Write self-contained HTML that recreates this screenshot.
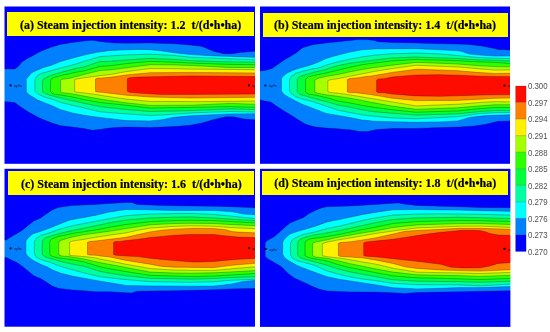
<!DOCTYPE html>
<html><head><meta charset="utf-8">
<style>
html,body{margin:0;padding:0;background:#fff;width:550px;height:332px;overflow:hidden;position:relative}
.t{position:absolute;background:#ffff00;font:bold 12px "Liberation Serif",serif;color:#000;white-space:pre;line-height:24px;-webkit-text-stroke:0.2px #000}
</style></head><body>
<svg width="550" height="332" viewBox="0 0 550 332" xmlns="http://www.w3.org/2000/svg" style="position:absolute;left:0;top:0">
<defs>
<clipPath id="ca"><rect x="4" y="6" width="251" height="158"/></clipPath>
<clipPath id="cb"><rect x="260" y="6" width="250" height="158"/></clipPath>
<clipPath id="cc"><rect x="4" y="168" width="251" height="159"/></clipPath>
<clipPath id="cd"><rect x="260" y="168" width="251" height="159"/></clipPath>
</defs>
<rect x="4" y="6" width="251" height="158" fill="#0000ff"/>
<g clip-path="url(#ca)">
<polygon points="0.0,69.0 15.0,69.0 18.5,66.2 22.0,62.0 28.0,58.0 31.3,56.5 40.4,51.5 49.5,47.8 60.0,44.4 72.0,42.6 84.0,41.1 92.0,40.2 102.0,41.8 114.0,43.0 126.0,43.2 150.0,43.0 174.0,43.7 190.0,45.0 202.0,46.4 214.0,51.4 224.0,53.8 230.0,53.8 232.0,53.8 240.6,52.4 260.0,51.0 260.0,120.3 244.0,118.9 233.4,116.8 230.0,116.8 226.0,116.8 214.0,119.4 202.0,122.9 190.0,125.2 174.0,126.6 150.0,127.6 126.0,127.0 114.0,127.6 102.0,129.1 92.5,130.3 84.0,128.5 72.0,127.1 60.0,125.5 52.0,123.1 40.0,118.3 28.0,111.7 19.7,106.2 14.8,102.6 0.0,101.0" fill="#0080ff" stroke="rgba(0,0,0,0.45)" stroke-width="0.6" stroke-linejoin="round"/>
<polygon points="26.3,91.7 26.3,79.1 28.1,77.0 31.7,72.8 36.5,70.4 42.5,67.9 45.0,67.1 52.2,64.9 60.0,61.7 72.0,58.2 75.0,57.4 84.0,55.1 96.0,52.5 108.0,50.7 120.0,50.0 138.0,49.4 150.0,49.7 162.0,50.9 174.0,52.7 190.0,54.4 192.0,54.6 214.0,55.9 230.0,56.4 234.0,56.7 260.0,57.5 260.0,113.8 230.0,113.9 190.0,115.8 174.0,117.3 162.0,119.7 150.0,120.9 126.0,120.6 108.0,118.4 96.0,116.9 84.0,115.2 75.0,113.5 72.0,112.9 60.0,109.4 52.2,105.8 45.0,102.9 43.8,102.4 37.7,100.1 32.9,97.1 28.1,94.1" fill="#00ffff" stroke="rgba(0,0,0,0.45)" stroke-width="0.6" stroke-linejoin="round"/>
<polygon points="34.9,90.9 34.9,80.1 36.5,76.4 40.1,74.0 45.0,72.5 46.2,72.1 52.2,70.4 60.0,68.2 72.0,65.1 75.0,64.2 84.0,61.4 100.0,56.6 125.0,55.0 150.0,54.1 174.0,55.4 190.0,57.2 230.0,58.9 260.0,60.0 260.0,112.1 230.0,111.5 192.0,112.9 190.0,113.1 162.0,115.0 150.0,115.4 125.0,113.8 100.0,111.8 84.0,107.9 75.0,105.8 72.0,105.2 60.0,102.3 52.2,99.2 46.2,97.6 45.0,97.1 40.1,95.1 36.5,92.8" fill="#00ffa0" stroke="rgba(0,0,0,0.45)" stroke-width="0.6" stroke-linejoin="round"/>
<polygon points="42.5,91.8 42.5,81.1 43.8,78.8 47.4,77.0 52.2,74.9 61.8,72.2 72.0,69.5 75.0,68.6 84.0,66.9 100.0,61.5 110.0,61.4 125.0,60.1 150.0,58.4 174.0,59.4 192.0,60.7 230.0,61.9 260.0,62.3 260.0,109.7 230.0,109.0 192.0,110.6 190.0,110.7 150.0,111.5 125.0,109.4 100.0,106.6 84.0,103.3 75.0,101.2 72.0,100.7 58.0,97.3 49.8,95.2 44.5,93.1" fill="#00ff3c" stroke="rgba(0,0,0,0.45)" stroke-width="0.6" stroke-linejoin="round"/>
<polygon points="50.5,91.6 50.5,81.1 51.7,78.7 54.6,77.4 61.8,75.3 70.0,73.7 75.0,72.4 84.0,70.9 100.0,66.4 110.0,65.8 125.0,63.8 150.0,61.3 174.0,62.2 192.0,63.1 230.0,64.4 260.0,64.8 260.0,107.4 230.0,106.6 192.0,107.4 150.0,108.0 125.0,105.1 100.0,102.5 84.0,99.6 75.0,97.6 70.0,96.5 61.8,95.2 54.6,94.1 52.5,93.5" fill="#2eff00" stroke="rgba(0,0,0,0.45)" stroke-width="0.6" stroke-linejoin="round"/>
<polygon points="60.6,91.8 60.6,80.5 61.8,79.3 70.0,78.2 84.0,74.4 100.0,70.5 110.0,69.9 125.0,68.0 150.0,64.7 174.0,64.9 190.0,65.4 192.0,65.5 230.0,67.6 260.0,67.4 260.0,104.4 230.0,103.4 192.0,105.2 190.0,105.2 150.0,105.4 125.0,102.7 100.0,99.1 84.0,96.1 70.0,93.5 61.8,92.7" fill="#a5ff00" stroke="rgba(0,0,0,0.45)" stroke-width="0.6" stroke-linejoin="round"/>
<polygon points="74.7,91.6 74.7,79.7 76.0,79.2 84.0,77.8 96.0,76.2 108.0,74.7 110.0,74.5 126.0,71.7 150.0,68.5 174.0,68.7 190.0,69.1 192.0,69.1 260.0,69.8 260.0,101.0 192.0,101.7 190.0,101.6 150.0,101.4 126.0,99.0 108.0,96.5 96.0,94.5 84.0,92.9 76.0,92.1" fill="#fff000" stroke="rgba(0,0,0,0.45)" stroke-width="0.6" stroke-linejoin="round"/>
<polygon points="95.5,91.5 95.5,79.0 97.0,78.3 102.0,78.0 114.0,76.8 126.0,74.9 150.0,72.7 174.0,72.6 190.0,72.4 192.0,72.4 260.0,73.0 260.0,97.3 192.0,98.0 190.0,98.0 150.0,97.0 126.0,95.2 114.0,93.7 102.0,92.3 97.0,92.0" fill="#ff8000" stroke="rgba(0,0,0,0.45)" stroke-width="0.6" stroke-linejoin="round"/>
<polygon points="127.3,91.3 127.3,78.7 129.6,77.7 138.0,77.1 162.0,76.6 190.0,76.0 192.0,76.0 260.0,76.6 260.0,94.0 192.0,94.4 190.0,94.4 162.0,94.6 138.0,93.1 129.6,92.3" fill="#ff0c00" stroke="rgba(0,0,0,0.45)" stroke-width="0.6" stroke-linejoin="round"/>
<circle cx="10.5" cy="85.4" r="1.1" fill="#000"/>
<text x="13.8" y="87.3" font-family="Liberation Sans, sans-serif" font-size="3.8" textLength="8" lengthAdjust="spacingAndGlyphs" fill="#111133">ay/m</text>
<circle cx="249" cy="85.3" r="1.1" fill="#000"/>
<text x="252.3" y="87.2" font-family="Liberation Sans, sans-serif" font-size="3.8" textLength="8" lengthAdjust="spacingAndGlyphs" fill="#111133">ay/m</text>
</g>
<rect x="260" y="6" width="250" height="158" fill="#0000ff"/>
<g clip-path="url(#cb)">
<polygon points="255.0,71.5 266.0,70.3 272.0,68.4 278.0,64.3 284.1,60.1 290.1,56.5 296.1,52.9 302.2,48.0 308.2,45.9 314.2,44.4 326.0,43.1 338.0,41.8 350.0,40.5 358.5,39.6 368.2,39.7 370.0,39.9 374.2,40.5 377.8,41.7 392.0,42.5 416.0,43.0 440.0,43.7 458.0,44.1 460.0,44.2 468.0,44.5 480.0,45.7 492.0,48.1 495.0,48.7 498.0,49.4 515.0,50.4 515.0,120.7 498.0,121.3 495.0,122.0 486.0,124.2 474.0,126.0 460.0,126.9 458.0,127.1 440.0,127.6 416.0,128.5 392.0,128.6 376.6,129.5 370.0,131.0 368.2,131.4 359.7,131.5 350.0,129.8 338.0,128.8 326.0,128.1 314.2,126.7 305.8,124.3 298.6,120.1 292.5,115.9 284.1,111.1 275.7,105.6 270.8,102.0 263.6,100.8 255.0,98.5" fill="#0080ff" stroke="rgba(0,0,0,0.45)" stroke-width="0.6" stroke-linejoin="round"/>
<polygon points="281.4,91.0 281.4,78.3 284.1,75.3 287.7,72.8 293.7,70.0 299.8,68.0 308.2,65.8 314.2,63.7 320.2,61.3 326.0,58.6 330.0,57.3 338.0,55.0 350.0,52.1 362.0,49.8 370.0,49.3 374.0,49.0 392.0,48.7 416.0,48.7 440.0,49.8 458.0,50.8 460.0,51.1 462.0,51.5 469.3,53.9 480.0,55.1 495.0,56.0 498.0,56.1 515.0,56.0 515.0,114.7 495.0,115.3 486.0,115.6 470.5,117.3 462.0,119.7 460.0,120.3 458.0,120.9 440.0,121.9 416.0,122.3 392.0,121.7 374.0,121.2 370.0,120.8 362.0,120.0 350.0,117.6 338.0,115.4 326.0,113.4 317.8,110.2 308.2,106.5 302.2,104.3 300.0,103.2 296.1,101.3 288.9,97.4 284.1,94.5" fill="#00ffff" stroke="rgba(0,0,0,0.45)" stroke-width="0.6" stroke-linejoin="round"/>
<polygon points="289.5,90.7 289.5,80.0 291.3,76.3 296.1,73.3 300.0,72.1 302.2,71.4 310.6,69.3 320.0,67.6 326.0,65.2 330.0,64.0 338.0,61.8 350.0,59.2 362.0,56.9 370.0,55.8 374.0,55.2 392.0,53.8 416.0,53.1 440.0,53.9 458.0,55.6 460.0,55.8 480.0,57.7 495.0,58.2 515.0,58.8 515.0,112.3 495.0,112.6 480.0,113.5 460.0,116.3 458.0,116.6 416.0,118.8 392.0,117.9 374.0,116.2 370.0,115.8 362.0,114.8 350.0,112.5 338.0,110.2 330.0,107.4 326.0,106.0 310.6,101.0 302.2,99.0 300.0,98.2 296.1,96.8 291.3,93.7" fill="#00ffa0" stroke="rgba(0,0,0,0.45)" stroke-width="0.6" stroke-linejoin="round"/>
<polygon points="297.3,91.9 297.3,79.5 299.8,76.4 305.8,74.6 314.2,72.2 326.0,69.4 330.0,67.9 338.0,65.6 350.0,63.2 362.0,61.6 374.0,60.0 392.0,58.0 416.0,57.0 420.0,57.2 458.0,58.5 460.0,58.7 480.0,59.9 495.0,60.2 515.0,61.2 515.0,110.6 495.0,110.6 480.0,111.5 460.0,113.6 458.0,113.8 416.0,115.1 392.0,113.2 374.0,111.7 370.0,111.1 362.0,109.7 350.0,107.1 338.0,105.0 330.0,102.7 326.0,101.6 314.2,98.6 305.8,96.1 299.8,94.3" fill="#00ff3c" stroke="rgba(0,0,0,0.45)" stroke-width="0.6" stroke-linejoin="round"/>
<polygon points="305.5,91.8 305.5,79.5 308.2,76.9 314.2,75.4 326.0,73.1 330.0,72.0 338.0,70.2 350.0,67.3 362.0,64.8 370.0,63.6 374.0,63.1 392.0,60.9 416.0,59.4 420.0,59.6 458.0,60.7 460.0,60.9 480.0,61.9 495.0,62.3 515.0,64.0 515.0,107.5 495.0,107.6 480.0,108.6 460.0,110.7 458.0,110.9 416.0,112.2 392.0,109.7 374.0,107.3 370.0,106.7 362.0,105.4 350.0,102.9 338.0,101.0 330.0,98.7 326.0,97.5 314.2,94.9 308.2,94.0" fill="#2eff00" stroke="rgba(0,0,0,0.45)" stroke-width="0.6" stroke-linejoin="round"/>
<polygon points="314.8,92.2 314.8,80.2 317.8,78.4 326.0,76.4 330.0,75.8 338.0,74.5 350.0,71.8 362.0,69.5 370.0,68.2 374.0,67.6 392.0,65.2 416.0,62.4 420.0,62.5 458.0,64.0 460.0,64.2 480.0,65.8 495.0,66.6 515.0,66.9 515.0,104.6 495.0,104.8 480.0,105.8 460.0,107.6 458.0,107.8 416.0,109.3 392.0,106.1 374.0,102.8 370.0,102.1 362.0,100.4 350.0,98.2 330.0,95.2 326.0,94.8 317.8,93.3" fill="#a5ff00" stroke="rgba(0,0,0,0.45)" stroke-width="0.6" stroke-linejoin="round"/>
<polygon points="327.8,91.6 327.8,80.8 330.0,79.8 338.0,78.6 350.0,76.2 362.0,73.9 370.0,72.3 374.0,71.5 392.0,68.6 416.0,65.3 420.0,65.4 458.0,67.0 460.0,67.1 480.0,68.9 495.0,70.1 515.0,69.8 515.0,102.0 495.0,101.6 480.0,102.5 460.0,104.1 458.0,104.2 416.0,105.9 392.0,101.9 374.0,98.9 370.0,98.3 362.0,96.9 350.0,94.9 338.0,93.2 330.0,92.4" fill="#fff000" stroke="rgba(0,0,0,0.45)" stroke-width="0.6" stroke-linejoin="round"/>
<polygon points="347.4,91.9 347.4,79.5 349.5,78.6 356.0,78.0 368.0,76.3 370.0,76.2 380.0,74.6 392.0,72.4 416.0,69.3 420.0,69.3 458.0,70.7 460.0,70.9 480.0,72.6 495.0,73.4 515.0,73.3 515.0,97.9 495.0,98.3 480.0,99.2 460.0,100.3 458.0,100.4 416.0,100.6 392.0,98.2 380.0,96.1 370.0,94.5 368.0,94.3 356.0,92.7 349.5,92.6" fill="#ff8000" stroke="rgba(0,0,0,0.45)" stroke-width="0.6" stroke-linejoin="round"/>
<polygon points="376.6,91.9 376.6,79.9 378.5,79.0 383.8,78.7 392.0,77.0 416.0,75.0 440.0,74.7 458.0,75.2 460.0,75.3 480.0,76.2 495.0,76.4 515.0,76.7 515.0,94.8 495.0,94.8 480.0,95.1 460.0,95.7 458.0,95.8 440.0,96.3 416.0,95.9 392.0,94.0 383.8,92.7 378.5,92.7" fill="#ff0c00" stroke="rgba(0,0,0,0.45)" stroke-width="0.6" stroke-linejoin="round"/>
<circle cx="265.4" cy="85.5" r="1.1" fill="#000"/>
<text x="268.7" y="87.4" font-family="Liberation Sans, sans-serif" font-size="3.8" textLength="8" lengthAdjust="spacingAndGlyphs" fill="#111133">ay/m</text>
<circle cx="504.5" cy="85.5" r="1.1" fill="#000"/>
<text x="507.8" y="87.4" font-family="Liberation Sans, sans-serif" font-size="3.8" textLength="8" lengthAdjust="spacingAndGlyphs" fill="#111133">ay/m</text>
</g>
<rect x="4" y="168" width="251" height="159" fill="#0000ff"/>
<g clip-path="url(#cc)">
<polygon points="0.0,240.0 6.4,240.0 10.0,237.4 16.0,234.0 22.0,230.5 28.1,225.5 34.1,220.7 40.1,218.3 46.2,214.1 52.2,209.9 58.2,207.4 72.0,205.6 84.0,205.0 96.0,204.4 108.0,203.5 110.0,203.4 126.0,202.6 132.0,202.6 136.8,204.4 150.0,205.0 162.0,205.5 174.0,205.8 192.0,206.0 214.0,206.3 230.0,206.7 238.0,207.1 260.0,208.0 260.0,288.4 238.0,288.7 230.0,288.9 214.0,289.7 192.0,290.3 174.0,290.7 150.0,290.9 136.8,291.2 132.0,292.9 126.0,292.8 110.0,291.7 108.0,291.7 96.0,291.7 84.0,290.7 72.0,289.9 58.2,288.3 52.2,286.1 46.2,281.9 40.1,278.3 34.1,275.9 28.1,271.1 22.0,266.0 16.0,262.0 11.2,260.0 6.4,257.5 0.0,257.5" fill="#0080ff" stroke="rgba(0,0,0,0.45)" stroke-width="0.6" stroke-linejoin="round"/>
<polygon points="25.9,253.6 25.9,240.9 28.1,237.9 32.9,233.7 40.1,231.6 45.0,229.8 49.8,228.1 58.2,224.6 70.0,219.9 84.0,217.4 96.0,215.2 108.0,212.3 110.0,211.9 126.0,209.5 150.0,209.8 174.0,210.5 192.0,210.4 214.0,210.5 230.0,211.5 232.0,211.7 244.0,214.1 260.0,215.0 260.0,280.1 244.0,281.3 232.0,284.0 230.0,284.2 214.0,286.1 192.0,286.2 150.0,285.9 126.0,285.4 110.0,282.8 108.0,282.5 96.0,280.4 84.0,278.2 72.0,276.1 60.0,272.9 52.2,269.8 47.4,267.1 45.0,266.1 40.1,264.1 32.9,260.2 28.1,256.6" fill="#00ffff" stroke="rgba(0,0,0,0.45)" stroke-width="0.6" stroke-linejoin="round"/>
<polygon points="34.4,253.7 34.4,241.8 36.5,238.2 41.3,235.2 45.0,234.2 49.8,232.8 58.2,229.5 72.0,225.9 84.0,223.5 96.0,221.2 108.0,219.0 110.0,218.6 126.0,215.7 150.0,214.0 174.0,213.6 192.0,213.4 214.0,214.5 230.0,216.0 238.0,216.9 260.0,219.0 260.0,279.0 230.0,280.3 214.0,281.7 192.0,282.3 150.0,281.6 125.0,279.5 110.0,277.8 100.0,276.7 84.0,272.9 72.0,269.7 60.0,266.2 49.8,262.2 45.0,260.9 41.3,259.8 36.5,257.4" fill="#00ffa0" stroke="rgba(0,0,0,0.45)" stroke-width="0.6" stroke-linejoin="round"/>
<polygon points="42.3,254.2 42.3,241.0 45.0,238.0 52.2,235.6 61.8,233.0 72.0,230.6 84.0,228.2 96.0,225.7 108.0,223.2 110.0,222.7 126.0,220.1 150.0,218.0 174.0,217.2 190.0,217.0 192.0,217.0 214.0,218.0 230.0,219.1 260.0,220.8 260.0,276.5 230.0,277.6 214.0,278.5 192.0,279.1 150.0,278.3 125.0,275.5 110.0,273.2 100.0,271.4 84.0,266.3 72.0,264.0 61.8,261.8 52.2,259.0 45.0,256.9" fill="#00ff3c" stroke="rgba(0,0,0,0.45)" stroke-width="0.6" stroke-linejoin="round"/>
<polygon points="49.8,254.8 49.8,241.0 52.2,238.7 58.2,236.5 72.0,233.6 84.0,231.7 96.0,229.9 108.0,227.6 110.0,227.2 126.0,224.5 150.0,221.7 174.0,220.6 190.0,220.3 192.0,220.3 214.0,220.6 230.0,221.5 260.0,223.2 260.0,273.2 230.0,275.0 214.0,276.0 192.0,276.6 190.0,276.6 150.0,275.3 125.0,271.4 110.0,268.8 100.0,266.8 84.0,261.9 72.0,259.7 58.2,257.8 52.2,256.3" fill="#2eff00" stroke="rgba(0,0,0,0.45)" stroke-width="0.6" stroke-linejoin="round"/>
<polygon points="58.8,254.8 58.8,241.7 61.8,240.0 72.0,237.0 84.0,234.6 96.0,233.1 108.0,231.4 110.0,231.1 126.0,228.6 150.0,224.8 174.0,223.5 190.0,223.3 192.0,223.3 214.0,223.5 230.0,224.5 260.0,225.9 260.0,270.3 230.0,272.0 214.0,272.8 192.0,273.2 190.0,273.2 174.0,273.0 150.0,272.1 125.0,267.3 110.0,264.5 100.0,262.7 84.0,259.0 70.0,256.7 61.8,256.0" fill="#a5ff00" stroke="rgba(0,0,0,0.45)" stroke-width="0.6" stroke-linejoin="round"/>
<polygon points="69.6,255.3 69.6,242.3 72.0,241.1 84.0,239.3 96.0,237.2 108.0,235.4 110.0,235.1 126.0,232.9 138.0,230.2 150.0,228.1 174.0,226.4 190.0,225.8 192.0,225.8 214.0,226.3 230.0,227.5 260.0,228.9 260.0,266.4 232.0,268.7 230.0,269.0 214.0,270.4 192.0,270.4 190.0,270.3 174.0,270.0 150.0,268.5 125.0,264.1 110.0,260.9 100.0,259.1 96.0,257.9 84.0,256.6 72.0,255.6" fill="#fff000" stroke="rgba(0,0,0,0.45)" stroke-width="0.6" stroke-linejoin="round"/>
<polygon points="87.5,254.4 87.5,242.3 89.5,241.6 96.0,240.9 108.0,239.5 110.0,239.3 126.0,237.3 138.0,234.6 150.0,231.9 162.0,230.2 174.0,229.2 190.0,228.4 192.0,228.3 214.0,228.5 226.0,229.8 230.0,231.0 232.0,231.6 238.0,232.1 260.0,233.1 260.0,262.9 232.0,265.3 230.0,265.6 214.0,267.5 200.0,267.4 192.0,267.4 190.0,267.3 174.0,267.2 162.0,266.4 150.0,264.2 125.0,260.2 110.0,257.0 108.0,256.7 100.0,256.0 96.0,255.2 89.5,255.0" fill="#ff8000" stroke="rgba(0,0,0,0.45)" stroke-width="0.6" stroke-linejoin="round"/>
<polygon points="113.6,254.5 113.6,242.3 115.5,241.5 120.0,241.4 126.0,240.6 138.0,239.3 150.0,237.6 162.0,236.4 174.0,235.2 190.0,234.5 192.0,234.4 214.0,234.6 226.0,235.9 230.0,236.3 238.0,237.1 260.0,237.7 260.0,258.2 238.0,259.3 230.0,259.9 214.0,261.4 200.0,262.0 192.0,262.0 190.0,261.8 174.0,260.6 162.0,259.4 150.0,258.3 138.0,256.6 126.0,256.0 120.0,255.5 115.5,255.2" fill="#ff0c00" stroke="rgba(0,0,0,0.45)" stroke-width="0.6" stroke-linejoin="round"/>
<circle cx="10.6" cy="248.3" r="1.1" fill="#000"/>
<text x="13.9" y="250.2" font-family="Liberation Sans, sans-serif" font-size="3.8" textLength="8" lengthAdjust="spacingAndGlyphs" fill="#111133">ay/m</text>
<circle cx="249" cy="248.1" r="1.1" fill="#000"/>
<text x="252.3" y="250.0" font-family="Liberation Sans, sans-serif" font-size="3.8" textLength="8" lengthAdjust="spacingAndGlyphs" fill="#111133">ay/m</text>
</g>
<rect x="260" y="168" width="251" height="159" fill="#0000ff"/>
<g clip-path="url(#cd)">
<polygon points="265.2,256.1 265.2,242.9 265.8,241.7 269.4,239.3 274.3,236.8 279.1,232.4 285.1,227.0 289.9,223.1 297.1,220.1 303.2,217.7 309.2,213.5 315.2,210.5 321.2,208.0 327.0,206.7 351.0,205.9 375.0,204.4 393.0,203.2 399.0,203.0 405.0,204.2 417.0,205.4 441.0,206.2 459.0,206.8 480.0,207.4 515.0,207.8 515.0,290.7 480.0,291.3 459.0,291.7 429.0,292.3 417.0,292.6 405.0,293.4 393.0,292.7 375.0,292.1 351.0,291.9 339.0,291.5 327.0,290.9 318.8,289.1 311.6,286.1 303.2,281.9 294.7,278.3 287.5,272.9 281.5,266.8 274.3,262.5 269.4,259.7 265.8,257.3" fill="#0080ff" stroke="rgba(0,0,0,0.45)" stroke-width="0.6" stroke-linejoin="round"/>
<polygon points="282.7,254.6 282.7,242.0 285.1,238.2 289.9,234.0 297.1,231.6 300.0,230.7 306.8,228.7 315.2,226.3 318.8,224.9 327.0,221.9 339.0,219.6 351.0,217.0 363.0,214.4 375.0,212.4 393.0,209.8 417.0,209.5 441.0,209.9 459.0,210.1 480.0,210.7 515.0,211.4 515.0,286.4 480.0,287.6 459.0,287.6 441.0,288.3 417.0,288.9 393.0,287.7 375.0,284.7 363.0,282.9 351.0,281.1 339.0,279.2 327.0,276.7 318.8,273.8 309.2,270.3 300.0,266.7 297.1,265.5 289.9,261.4 285.1,258.2" fill="#00ffff" stroke="rgba(0,0,0,0.45)" stroke-width="0.6" stroke-linejoin="round"/>
<polygon points="290.5,254.6 290.5,243.5 292.3,239.9 297.1,236.9 300.0,235.8 303.2,234.5 315.2,231.9 327.0,228.6 339.0,226.2 351.0,223.3 363.0,220.4 375.0,218.0 393.0,215.1 417.0,214.1 441.0,213.8 459.0,214.0 480.0,214.3 515.0,215.3 515.0,283.8 480.0,285.8 459.0,284.8 417.0,284.7 393.0,283.3 375.0,280.5 363.0,279.1 351.0,277.1 339.0,274.3 327.0,270.9 315.2,265.5 303.2,262.1 300.0,261.3 297.1,260.6 292.3,258.2" fill="#00ffa0" stroke="rgba(0,0,0,0.45)" stroke-width="0.6" stroke-linejoin="round"/>
<polygon points="297.7,254.9 297.7,242.1 299.6,239.7 303.2,237.8 311.6,235.4 327.0,232.9 339.0,230.6 351.0,228.0 363.0,225.4 375.0,222.8 393.0,219.5 417.0,217.9 459.0,217.3 480.0,217.7 515.0,218.7 515.0,281.1 480.0,282.3 459.0,281.7 417.0,281.2 393.0,279.8 375.0,276.5 363.0,274.3 351.0,272.1 339.0,269.2 327.0,265.2 311.6,261.0 303.2,258.8 299.6,257.2" fill="#00ff3c" stroke="rgba(0,0,0,0.45)" stroke-width="0.6" stroke-linejoin="round"/>
<polygon points="305.0,255.7 305.0,242.1 309.2,239.0 327.0,236.5 339.0,234.4 351.0,231.9 363.0,229.5 375.0,227.2 393.0,223.5 417.0,221.5 459.0,220.5 480.0,220.7 515.0,221.5 515.0,278.3 480.0,279.5 459.0,278.8 417.0,277.8 393.0,275.9 375.0,272.5 363.0,270.2 351.0,267.8 339.0,264.9 327.0,261.0 309.2,257.8" fill="#2eff00" stroke="rgba(0,0,0,0.45)" stroke-width="0.6" stroke-linejoin="round"/>
<polygon points="312.6,255.7 312.6,243.3 315.2,242.1 327.0,239.8 339.0,237.1 351.0,234.9 363.0,232.8 375.0,231.0 393.0,227.5 417.0,224.9 459.0,223.6 480.0,223.5 515.0,224.7 515.0,275.2 480.0,276.4 459.0,275.6 417.0,274.8 393.0,272.1 375.0,268.8 363.0,266.3 351.0,263.9 339.0,261.0 327.0,258.3 315.2,256.9" fill="#a5ff00" stroke="rgba(0,0,0,0.45)" stroke-width="0.6" stroke-linejoin="round"/>
<polygon points="322.4,255.7 322.4,243.8 327.0,242.1 339.0,239.8 351.0,237.8 363.0,235.8 375.0,233.6 393.0,231.0 417.0,227.9 459.0,226.3 480.0,226.1 515.0,227.6 515.0,272.3 480.0,273.5 459.0,273.0 417.0,272.2 393.0,268.2 375.0,264.0 363.0,262.0 351.0,259.9 339.0,258.0 327.0,256.7" fill="#fff000" stroke="rgba(0,0,0,0.45)" stroke-width="0.6" stroke-linejoin="round"/>
<polygon points="338.4,255.6 338.4,243.3 340.5,242.5 351.0,241.7 363.0,239.9 375.0,238.0 393.0,234.0 405.0,231.3 417.0,230.5 441.0,229.3 459.0,228.3 480.0,228.3 515.0,229.4 515.0,269.6 480.0,271.1 459.0,270.6 441.0,269.9 417.0,268.4 405.0,266.8 393.0,263.5 375.0,259.9 363.0,258.0 351.0,257.1 340.5,256.4" fill="#ff8000" stroke="rgba(0,0,0,0.45)" stroke-width="0.6" stroke-linejoin="round"/>
<polygon points="363.7,255.5 363.7,242.9 366.0,241.9 375.0,241.1 393.0,239.3 405.0,237.4 417.0,235.6 429.0,233.8 441.0,232.3 450.0,231.4 462.0,230.3 474.0,230.3 480.0,230.5 486.0,232.0 490.0,233.5 498.0,235.0 515.0,235.5 515.0,262.4 498.0,263.4 489.8,266.0 480.0,267.8 462.0,267.9 450.0,267.1 441.0,264.3 417.0,261.3 393.0,258.7 375.0,256.7 366.0,256.2" fill="#ff0c00" stroke="rgba(0,0,0,0.45)" stroke-width="0.6" stroke-linejoin="round"/>
<circle cx="265.8" cy="249" r="1.1" fill="#000"/>
<text x="269.1" y="250.9" font-family="Liberation Sans, sans-serif" font-size="3.8" textLength="8" lengthAdjust="spacingAndGlyphs" fill="#111133">ay/m</text>
<circle cx="504.5" cy="248.9" r="1.1" fill="#000"/>
<text x="507.8" y="250.8" font-family="Liberation Sans, sans-serif" font-size="3.8" textLength="8" lengthAdjust="spacingAndGlyphs" fill="#111133">ay/m</text>
</g>
<rect x="4.00" y="6.00" width="0.50" height="158.00" fill="#fff"/>
<rect x="4.00" y="6.00" width="251.00" height="0.50" fill="#fff"/>
<rect x="4.00" y="163.80" width="251.00" height="0.20" fill="#fff"/>
<rect x="260.00" y="6.00" width="250.00" height="0.50" fill="#fff"/>
<rect x="260.00" y="163.80" width="250.00" height="0.20" fill="#fff"/>
<rect x="4.00" y="168.00" width="0.50" height="159.00" fill="#fff"/>
<rect x="4.00" y="168.00" width="251.00" height="0.80" fill="#fff"/>
<rect x="4.00" y="326.70" width="251.00" height="0.30" fill="#fff"/>
<rect x="510.40" y="168.00" width="0.60" height="159.00" fill="#fff"/>
<rect x="260.00" y="168.00" width="251.00" height="0.80" fill="#fff"/>
<rect x="260.00" y="326.90" width="251.00" height="0.10" fill="#fff"/>
<rect x="515.6" y="86.00" width="10.5" height="16.55" fill="#ff0c00"/>
<rect x="515.6" y="102.55" width="10.5" height="16.55" fill="#ff8000"/>
<rect x="515.6" y="119.10" width="10.5" height="16.55" fill="#fff000"/>
<rect x="515.6" y="135.65" width="10.5" height="16.55" fill="#a5ff00"/>
<rect x="515.6" y="152.20" width="10.5" height="16.55" fill="#2eff00"/>
<rect x="515.6" y="168.75" width="10.5" height="16.55" fill="#00ff3c"/>
<rect x="515.6" y="185.30" width="10.5" height="16.55" fill="#00ffa0"/>
<rect x="515.6" y="201.85" width="10.5" height="16.55" fill="#00ffff"/>
<rect x="515.6" y="218.40" width="10.5" height="16.55" fill="#0080ff"/>
<rect x="515.6" y="234.95" width="10.5" height="16.55" fill="#0000ff"/>
<line x1="515.6" x2="526.1" y1="102.55" y2="102.55" stroke="rgba(0,0,0,0.35)" stroke-width="0.6"/>
<line x1="515.6" x2="526.1" y1="119.10" y2="119.10" stroke="rgba(0,0,0,0.35)" stroke-width="0.6"/>
<line x1="515.6" x2="526.1" y1="135.65" y2="135.65" stroke="rgba(0,0,0,0.35)" stroke-width="0.6"/>
<line x1="515.6" x2="526.1" y1="152.20" y2="152.20" stroke="rgba(0,0,0,0.35)" stroke-width="0.6"/>
<line x1="515.6" x2="526.1" y1="168.75" y2="168.75" stroke="rgba(0,0,0,0.35)" stroke-width="0.6"/>
<line x1="515.6" x2="526.1" y1="185.30" y2="185.30" stroke="rgba(0,0,0,0.35)" stroke-width="0.6"/>
<line x1="515.6" x2="526.1" y1="201.85" y2="201.85" stroke="rgba(0,0,0,0.35)" stroke-width="0.6"/>
<line x1="515.6" x2="526.1" y1="218.40" y2="218.40" stroke="rgba(0,0,0,0.35)" stroke-width="0.6"/>
<line x1="515.6" x2="526.1" y1="234.95" y2="234.95" stroke="rgba(0,0,0,0.35)" stroke-width="0.6"/>
<rect x="515.6" y="86.0" width="10.5" height="165.50" fill="none" stroke="rgba(0,0,0,0.25)" stroke-width="0.5"/>
<text x="527.9" y="89.30" font-family="Liberation Sans, sans-serif" font-size="8.7" textLength="19.6" lengthAdjust="spacingAndGlyphs" fill="#505050">0.300</text>
<text x="527.9" y="105.85" font-family="Liberation Sans, sans-serif" font-size="8.7" textLength="19.6" lengthAdjust="spacingAndGlyphs" fill="#505050">0.297</text>
<text x="527.9" y="122.40" font-family="Liberation Sans, sans-serif" font-size="8.7" textLength="19.6" lengthAdjust="spacingAndGlyphs" fill="#505050">0.294</text>
<text x="527.9" y="138.95" font-family="Liberation Sans, sans-serif" font-size="8.7" textLength="19.6" lengthAdjust="spacingAndGlyphs" fill="#505050">0.291</text>
<text x="527.9" y="155.50" font-family="Liberation Sans, sans-serif" font-size="8.7" textLength="19.6" lengthAdjust="spacingAndGlyphs" fill="#505050">0.288</text>
<text x="527.9" y="172.05" font-family="Liberation Sans, sans-serif" font-size="8.7" textLength="19.6" lengthAdjust="spacingAndGlyphs" fill="#505050">0.285</text>
<text x="527.9" y="188.60" font-family="Liberation Sans, sans-serif" font-size="8.7" textLength="19.6" lengthAdjust="spacingAndGlyphs" fill="#505050">0.282</text>
<text x="527.9" y="205.15" font-family="Liberation Sans, sans-serif" font-size="8.7" textLength="19.6" lengthAdjust="spacingAndGlyphs" fill="#505050">0.279</text>
<text x="527.9" y="221.70" font-family="Liberation Sans, sans-serif" font-size="8.7" textLength="19.6" lengthAdjust="spacingAndGlyphs" fill="#505050">0.276</text>
<text x="527.9" y="238.25" font-family="Liberation Sans, sans-serif" font-size="8.7" textLength="19.6" lengthAdjust="spacingAndGlyphs" fill="#505050">0.273</text>
<text x="527.9" y="254.80" font-family="Liberation Sans, sans-serif" font-size="8.7" textLength="19.6" lengthAdjust="spacingAndGlyphs" fill="#505050">0.270</text>
</svg>
<div class="t" style="left:7.3px;top:12.4px;width:246.5px;height:24.1px;text-indent:12.6px;padding-top:0.4px;box-sizing:border-box">(a) Steam injection intensity: 1.2  t/(d•h•ha)</div>
<div class="t" style="left:262.5px;top:12.5px;width:245.5px;height:24px;text-indent:11.5px;padding-top:0.4px;box-sizing:border-box">(b) Steam injection intensity: 1.4  t/(d•h•ha)</div>
<div class="t" style="left:8.4px;top:171.4px;width:245.3px;height:23.7px;text-indent:12.6px;padding-top:0.4px;box-sizing:border-box">(c) Steam injection intensity: 1.6  t/(d•h•ha)</div>
<div class="t" style="left:261.8px;top:171.1px;width:246.3px;height:24px;text-indent:12.4px;padding-top:0.4px;box-sizing:border-box">(d) Steam injection intensity: 1.8  t/(d•h•ha)</div>
</body></html>
